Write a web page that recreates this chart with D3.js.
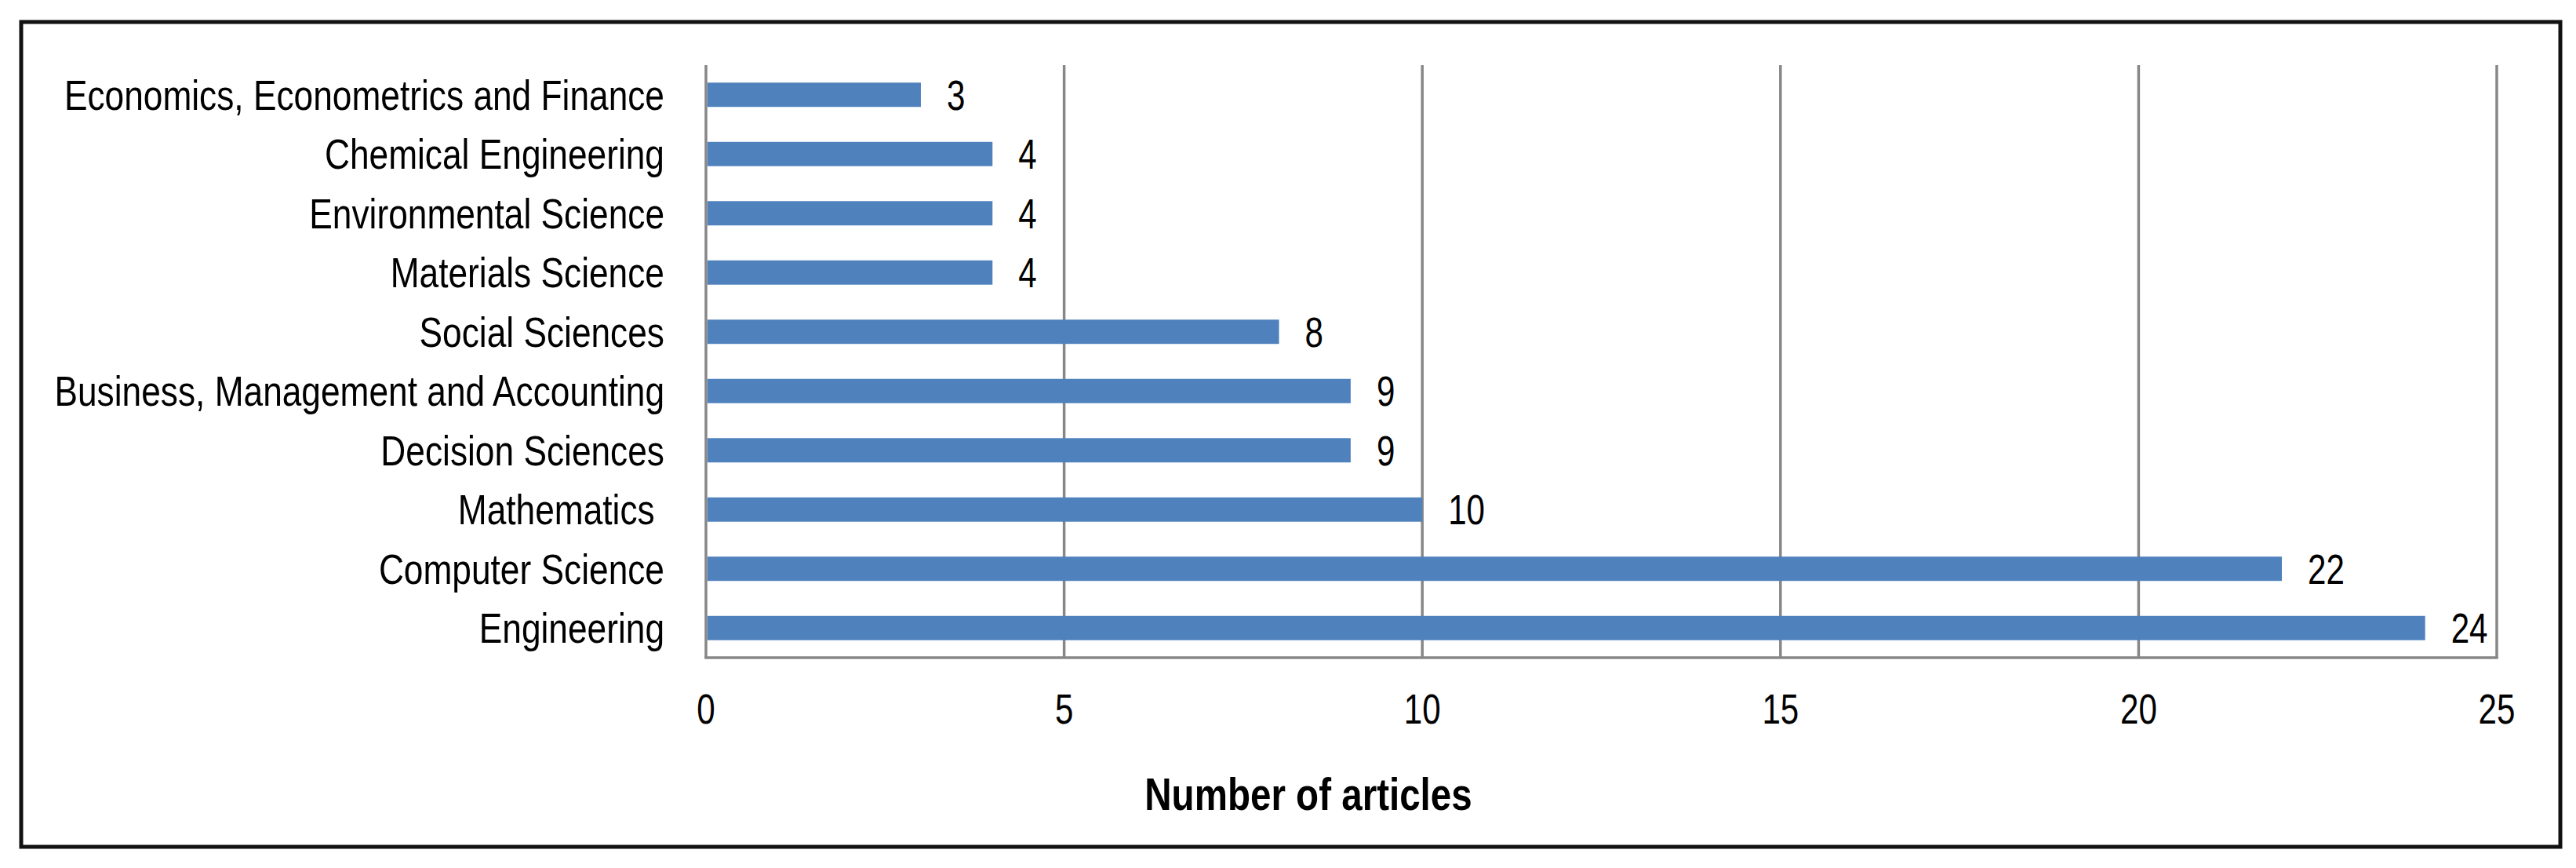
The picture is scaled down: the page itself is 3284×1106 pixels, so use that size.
<!DOCTYPE html>
<html>
<head>
<meta charset="utf-8">
<script src="https://cdn.jsdelivr.net/npm/d3@7"></script>
<style>
  body { margin: 0; background: #fff; }
  text { font-family: "Liberation Sans", Arial, sans-serif; fill: #000; white-space: pre; }
</style>
</head>
<body>
<svg></svg>
<script>
// data, top to bottom as in the chart
var categories = [
  'Economics, Econometrics and Finance',
  'Chemical Engineering',
  'Environmental Science',
  'Materials Science',
  'Social Sciences',
  'Business, Management and Accounting',
  'Decision Sciences',
  'Mathematics ',
  'Computer Science',
  'Engineering'
];
var articles = [3, 4, 4, 4, 8, 9, 9, 10, 22, 24];
var xTicks = [0, 5, 10, 15, 20, 25];
var xTitle = 'Number of articles';

(function draw() {
  var W = 3284, H = 1106;
  var plotL = 900, plotR = 3183, plotT = 83, plotB = 838;
  var squeeze = 0.78;   // numbers: the picture uses a narrow face
  var squeezeCat = 0.82; // category names

  var svg = d3.select('svg').attr('width', W).attr('height', H);
  svg.append('rect').attr('width', W).attr('height', H).attr('fill', '#fff');

  // outer frame
  svg.append('rect')
    .attr('x', 27).attr('y', 28).attr('width', 3237).attr('height', 1051)
    .attr('fill', 'none').attr('stroke', '#111').attr('stroke-width', 5);

  var x = d3.scaleLinear().domain([0, 25]).range([plotL, plotR]);
  var y = d3.scaleBand().domain(categories).range([plotT, plotB])
    .paddingInner(0.59).paddingOuter(0.295);

  // vertical gridlines (incl. the 0 axis)
  svg.append('g').selectAll('line').data(xTicks).enter().append('line')
    .attr('x1', function(d){ return x(d) }).attr('x2', function(d){ return x(d) })
    .attr('y1', plotT).attr('y2', plotB)
    .attr('stroke', '#878787').attr('stroke-width', 3.5);

  // bottom axis line
  svg.append('line')
    .attr('x1', x(0) - 1.75).attr('x2', x(25) + 1.75)
    .attr('y1', plotB).attr('y2', plotB)
    .attr('stroke', '#878787').attr('stroke-width', 3.5);

  // bars
  svg.append('g').selectAll('rect').data(articles).enter().append('rect')
    .attr('x', x(0) + 2)
    .attr('y', function(d, i){ return y(categories[i]) })
    .attr('width', function(d){ return x(d) - x(0) - 2 })
    .attr('height', y.bandwidth())
    .attr('fill', '#4f81bd');

  // value labels
  svg.append('g').selectAll('text').data(articles).enter().append('text')
    .attr('transform', function(d, i){
      return 'translate(' + (x(d) + 33) + ',' + (y(categories[i]) + y.bandwidth() / 2) + ') scale(' + squeeze + ',1)';
    })
    .attr('dy', '0.35em')
    .style('font-size', '54px')
    .text(function(d){ return d });

  // category labels
  svg.append('g').selectAll('text').data(categories).enter().append('text')
    .attr('transform', function(d){
      return 'translate(847,' + (y(d) + y.bandwidth() / 2) + ') scale(' + squeezeCat + ',1)';
    })
    .attr('dy', '0.35em')
    .attr('text-anchor', 'end')
    .style('font-size', '54px')
    .text(function(d){ return d });

  // x tick labels
  svg.append('g').selectAll('text').data(xTicks).enter().append('text')
    .attr('transform', function(d){ return 'translate(' + x(d) + ',922) scale(' + squeeze + ',1)' })
    .attr('text-anchor', 'middle')
    .style('font-size', '54px')
    .text(function(d){ return d });

  // axis title
  svg.append('text')
    .attr('transform', 'translate(1668,1032) scale(0.82,1)')
    .attr('text-anchor', 'middle')
    .style('font-size', '58px')
    .style('font-weight', 'bold')
    .text(xTitle);
})();
</script>
</body>
</html>
